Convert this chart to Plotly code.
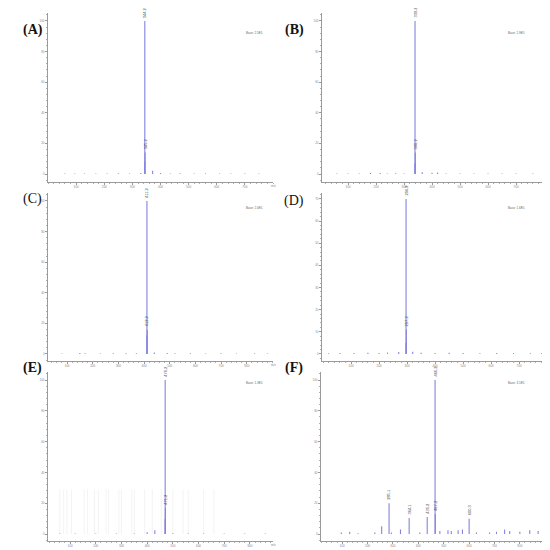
import plotly.graph_objects as go

# m/z and relative abundance
a_mz = [60, 95, 130, 170, 210, 250, 290, 330, 343.9, 344.2, 345.2, 372.1, 400, 435, 470, 520, 560, 610, 650, 700, 750]
a_int = [0.3, 0.4, 0.3, 0.4, 0.3, 0.5, 0.4, 0.6, 8, 100, 14, 2.2, 0.6, 0.4, 0.5, 0.3, 0.4, 0.3, 0.4, 0.3, 0.3]
a_lab_mz = [344.2, 345.2]
a_lab_int = [100, 14]

b_mz = [60, 100, 140, 180, 215, 240, 270, 300, 338.9, 339.2, 340.2, 365, 400, 420, 450, 500, 550, 600, 650, 700, 760]
b_int = [0.3, 0.4, 0.3, 0.6, 0.7, 0.4, 0.5, 0.4, 7, 100, 14, 1.2, 0.8, 1.0, 0.4, 0.3, 0.4, 0.3, 0.4, 0.3, 0.3]
b_lab_mz = [339.2, 340.2]
b_lab_int = [100, 14]

c_mz = [80, 150, 170, 230, 280, 330, 370, 410.9, 411.2, 412.2, 440, 490, 520, 580, 640, 700, 760, 830, 880]
c_int = [0.3, 0.7, 0.5, 0.3, 0.4, 0.4, 0.5, 12, 100, 16, 1.0, 0.6, 0.5, 0.4, 0.3, 0.4, 0.3, 0.4, 0.3]
c_lab_mz = [411.2, 412.2]
c_lab_int = [100, 16]

d_mz = [20, 60, 110, 160, 200, 230, 270, 295.9, 296.2, 297.2, 320, 350, 400, 450, 500, 560, 620, 680, 740, 780]
d_int = [0.3, 0.4, 0.4, 0.5, 0.4, 0.6, 0.9, 5, 70, 11, 1.0, 0.5, 0.4, 0.5, 0.4, 0.3, 0.4, 0.4, 0.3, 0.3]
d_lab_mz = [296.2, 297.2]
d_lab_int = [70, 11]

e_mz = [60, 120, 200, 280, 350, 400, 430, 469.9, 470.2, 471.2, 500, 560, 620, 700, 780, 860]
e_int = [0.3, 0.3, 0.3, 0.4, 0.4, 1.2, 2.4, 10, 100, 17, 0.6, 0.3, 0.3, 0.3, 0.3, 0.3]
e_lab_mz = [470.2, 471.2]
e_lab_int = [100, 17]
e_bg_mz = [60, 75, 88, 105, 155, 168, 195, 210, 240, 250, 290, 300, 340, 350, 390, 420, 455, 500, 540, 560, 620, 660]
e_bg_int = [29, 29, 29, 29, 29, 29, 29, 29, 29, 29, 29, 29, 29, 29, 29, 29, 29, 29, 29, 29, 29, 29]

f_mz = [97, 130, 163, 229, 256, 285.1, 294, 330, 364.1, 406, 435.2, 466.2, 467.2, 485, 517, 530, 557, 574, 600.3, 629, 681, 708, 740, 760, 800, 839, 872]
f_int = [1.0, 1.5, 0.5, 1.0, 5, 20, 1.0, 3, 10.5, 1.0, 11, 100, 13, 2, 2.5, 2, 2.5, 3, 10, 1, 1, 1.5, 3, 2, 1.5, 2.5, 2]
f_lab_mz = [285.1, 364.1, 435.2, 466.2, 467.2, 600.3]
f_lab_int = [20, 10.5, 11, 100, 13, 10]

panel_names = ["(A)", "(B)", "(C)", "(D)", "(E)", "(F)"]
panel_bold = [True, True, False, False, True, True]
base_text = ["Base: 2.5E5", "Base: 1.9E5", "Base: 2.0E5", "Base: 1.6E5", "Base: 1.3E5", "Base: 3.1E5"]


def sticks(mz, inten):
    xs, ys = [], []
    for m, v in zip(mz, inten):
        xs += [m, m, None]
        ys += [0, v, None]
    return xs, ys


def py(p):
    return 1 - p / 550


def px_(p):
    return p / 550


# per panel: data + placement (pixel boxes)
panels = [
    dict(mz=a_mz, it=a_int, lm=a_lab_mz, li=a_lab_int, xr=[0, 800], xt=list(range(100, 800, 100)),
         yr=[-5.2, 105.2], yt=[0, 20, 40, 60, 80, 100], box=(40, 265, 5, 174), lab=(13, 12), base=(246, 21)),
    dict(mz=b_mz, it=b_int, lm=b_lab_mz, li=b_lab_int, xr=[7, 807], xt=list(range(100, 800, 100)),
         yr=[-5.2, 105.2], yt=[0, 20, 40, 60, 80, 100], box=(314, 538, 5, 174), lab=(286, 12), base=(519, 21)),
    dict(mz=c_mz, it=c_int, lm=c_lab_mz, li=c_lab_int, xr=[26, 902], xt=list(range(100, 900, 100)),
         yr=[-4.6, 105.2], yt=[0, 20, 40, 60, 80, 100], box=(40, 265, 185, 353), lab=(13, 191), base=(246, 200)),
    dict(mz=d_mz, it=d_int, lm=d_lab_mz, li=d_lab_int, xr=[-4, 796], xt=list(range(100, 800, 100)),
         yr=[-3.2, 72.7], yt=[0, 10, 20, 30, 40, 50, 60, 70], box=(314, 538, 185, 353), lab=(286, 193), base=(519, 200)),
    dict(mz=e_mz, it=e_int, lm=e_lab_mz, li=e_lab_int, xr=[14, 890], xt=list(range(100, 900, 100)),
         yr=[-4.5, 105.2], yt=[0, 20, 40, 60, 80, 100], box=(40, 265, 364, 533), lab=(13, 370), base=(246, 379)),
    dict(mz=f_mz, it=f_int, lm=f_lab_mz, li=f_lab_int, xr=[17, 903], xt=list(range(100, 900, 100)),
         yr=[-4.5, 105.2], yt=[0, 20, 40, 60, 80, 100], box=(313, 538, 364, 533), lab=(286, 370), base=(519, 379)),
]

fig = go.Figure()
axis_font = dict(family="Liberation Sans", size=3, color="#888888")

for i, p in enumerate(panels):
    n = "" if i == 0 else str(i + 1)
    xa, ya = "x" + n, "y" + n
    x0, x1, y0, y1 = p["box"]

    if i == 4:
        bx, by = sticks(e_bg_mz, e_bg_int)
        fig.add_trace(go.Scatter(x=bx, y=by, mode="lines", line=dict(color="#f0f0f0", width=0.8),
                                 xaxis=xa, yaxis=ya, showlegend=False, hoverinfo="skip"))

    sx, sy = sticks(p["mz"], p["it"])
    fig.add_trace(go.Scatter(x=sx, y=sy, mode="lines", line=dict(color="#8484e0", width=1.1),
                             xaxis=xa, yaxis=ya, showlegend=False))

    fig.layout["xaxis" + n] = dict(
        domain=[px_(x0), px_(x1)], anchor=ya, range=p["xr"], tickvals=p["xt"],
        showline=True, linecolor="#9a9a9a", linewidth=0.7, ticks="outside", ticklen=2,
        tickcolor="#9a9a9a", tickwidth=0.5, showgrid=False, zeroline=False, tickfont=axis_font,
        minor=dict(ticks="outside", ticklen=1.5, dtick=20, tickcolor="#b0b0b0", tickwidth=0.5),
    )
    fig.layout["yaxis" + n] = dict(
        domain=[py(y1), py(y0)], anchor=xa, range=p["yr"], tickvals=p["yt"],
        showline=True, linecolor="#9a9a9a", linewidth=0.7, ticks="outside", ticklen=2,
        tickcolor="#9a9a9a", tickwidth=0.5, showgrid=False, zeroline=False, tickfont=axis_font,
        minor=dict(ticks="outside", ticklen=1.5, dtick=(2 if p["yt"][-1] == 70 else 4),
                   tickcolor="#b0b0b0", tickwidth=0.5),
    )

    # peak labels
    for m, v in zip(p["lm"], p["li"]):
        fig.add_annotation(x=m, y=v, xref=xa, yref=ya, text=f"{m:.1f}", showarrow=False,
                           textangle=-90, yanchor="bottom", yshift=1,
                           font=dict(family="Liberation Sans", size=4, color="#444444"))

    # m/z tag at end of x axis
    fig.add_annotation(x=px_(x1), y=py(y1 + 4), xref="paper", yref="paper", text="m/z",
                       showarrow=False, yanchor="middle", xanchor="center",
                       font=dict(family="Liberation Sans", size=3, color="#888888"))

    # base peak text
    fig.add_annotation(x=px_(p["base"][0]), y=py(p["base"][1]), xref="paper", yref="paper",
                       text=base_text[i], showarrow=False,
                       font=dict(family="Liberation Sans", size=3, color="#666666"))

    # panel letter
    name = "<b>" + panel_names[i] + "</b>" if panel_bold[i] else panel_names[i]
    fig.add_annotation(x=px_(p["lab"][0]), y=py(p["lab"][1]), xref="paper", yref="paper",
                       text=name, showarrow=False,
                       font=dict(family="Liberation Serif", size=14, color="#111111"))

fig.update_layout(width=550, height=550, margin=dict(l=0, r=0, t=0, b=0),
                  paper_bgcolor="white", plot_bgcolor="white")

fig.write_html("out.html")
